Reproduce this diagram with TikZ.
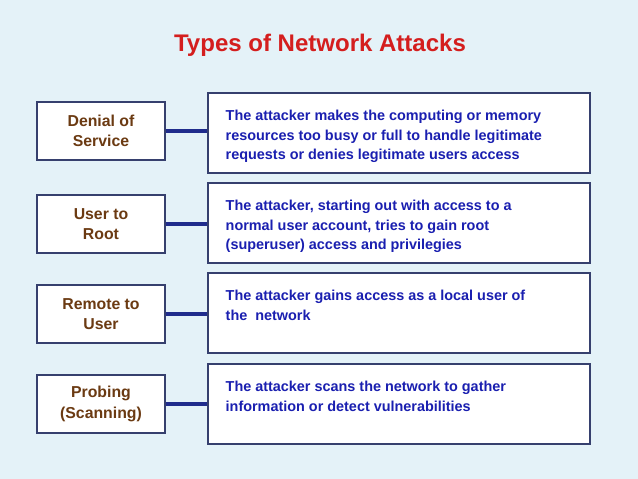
\documentclass[tikz,border=0pt]{standalone}
\usepackage{fontspec}
\setmainfont{Liberation Sans}
\definecolor{bgblue}{HTML}{E4F2F8}
\definecolor{boxline}{HTML}{36406E}
\definecolor{termbrown}{HTML}{6B3A12}
\definecolor{descblue}{HTML}{1A1FB0}
\definecolor{linknavy}{HTML}{1F2C8C}
\definecolor{titlered}{HTML}{D41E1E}
\begin{document}
\begin{tikzpicture}[x=0.03cm,y=-0.03cm,
  term/.style={draw=boxline,line width=0.9pt,fill=white,minimum width=128*0.03cm,
    minimum height=58*0.03cm,align=center,
    font=\fontsize{13.5}{17.5}\selectfont\bfseries,text=termbrown},
  desc/.style={draw=boxline,line width=0.9pt,fill=white,minimum width=382*0.03cm,
    minimum height=80*0.03cm},
  desctext/.style={anchor=north west,align=left,inner sep=0pt,
    font=\fontsize{12.3}{17}\selectfont\bfseries,text=descblue},
  link/.style={draw=linknavy,line width=2.6pt}]
\fill[bgblue] (0,0) rectangle (638,479);
\useasboundingbox (0,0) rectangle (638,479);
\node[text=titlered,font=\fontsize{20.5}{24}\selectfont\bfseries] (title) at (320,45) {Types of Network Attacks};

\node[term] (t1) at (101,131) {Denial of\\Service};
\node[term] (t2) at (101,224) {User to\\Root};
\node[term] (t3) at (101,314) {Remote to\\User};
\node[term] (t4) at (101,404) {Probing\\(Scanning)};

\node[desc] (d1) at (399,133) {};
\node[desc] (d2) at (399,223) {};
\node[desc] (d3) at (399,313) {};
\node[desc] (d4) at (399,404) {};

\node[desctext] (x1) at ([shift={(18,17)}]d1.north west) {The attacker makes the computing or memory\\resources too busy or full to handle legitimate\\requests or denies legitimate users access};
\node[desctext] (x2) at ([shift={(18,17)}]d2.north west) {The attacker, starting out with access to a\\normal user account, tries to gain root\\(superuser) access and privilegies};
\node[desctext] (x3) at ([shift={(18,17)}]d3.north west) {The attacker gains access as a local user of\\the\ \ network};
\node[desctext] (x4) at ([shift={(18,17)}]d4.north west) {The attacker scans the network to gather\\information or detect vulnerabilities};

\draw[link] (t1.east) -- (t1.east -| d1.west);
\draw[link] (t2.east) -- (t2.east -| d2.west);
\draw[link] (t3.east) -- (t3.east -| d3.west);
\draw[link] (t4.east) -- (t4.east -| d4.west);
\end{tikzpicture}
\end{document}
